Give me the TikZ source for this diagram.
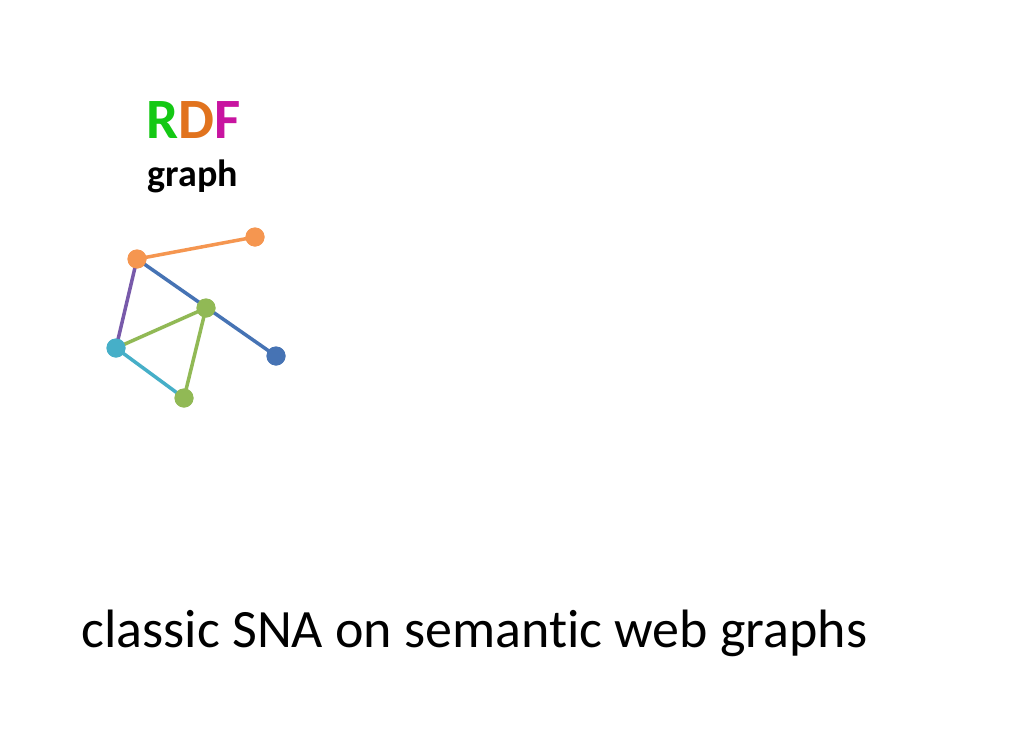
\documentclass[tikz,border=0pt]{standalone}
\usepackage{fontspec}
\setmainfont[Ligatures={NoCommon}]{Carlito}
\begin{document}
\begin{tikzpicture}[x=1pt,y=-1pt,
 dot/.style={circle,inner sep=0pt,minimum size=19pt},
 edge/.style={line width=3.5pt}]
\useasboundingbox[fill=white] (0,0) rectangle (1030,728);
\definecolor{org}{RGB}{245,150,80}
\definecolor{blu}{RGB}{70,115,180}
\definecolor{grn}{RGB}{145,185,85}
\definecolor{cya}{RGB}{70,175,200}
\definecolor{pur}{RGB}{120,90,170}
\node[anchor=west,font=\fontsize{57}{60}\selectfont\bfseries] (rdf) at (143,120) {\textcolor[RGB]{20,200,20}{R}\textcolor[RGB]{225,115,30}{D}\textcolor[RGB]{200,20,160}{F}};
\node[anchor=west,font=\fontsize{38}{42}\selectfont\bfseries] (g) at (144,176) {graph};
\node[dot,fill=org] (a) at (137,259) {};
\node[dot,fill=org] (b) at (255,237) {};
\node[dot,fill=grn] (c) at (206,308) {};
\node[dot,fill=blu] (d) at (276,356) {};
\node[dot,fill=cya] (e) at (116,348) {};
\node[dot,fill=grn] (f) at (184,398) {};
\draw[edge,org] (a.center) -- (b.center);
\draw[edge,blu] (a.center) -- (d.center);
\draw[edge,pur] (a.center) -- (e.center);
\draw[edge,grn] (c.center) -- (e.center);
\draw[edge,grn] (c.center) -- (f.center);
\draw[edge,cya] (e.center) -- (f.center);
\foreach \n/\c in {a/org,b/org,c/grn,d/blu,e/cya,f/grn} \fill[\c] (\n) circle (9.5);
\node[anchor=west,font=\fontsize{54}{60}\selectfont] (t) at (78,633) {classic SNA on semantic web graphs};
\end{tikzpicture}
\end{document}
